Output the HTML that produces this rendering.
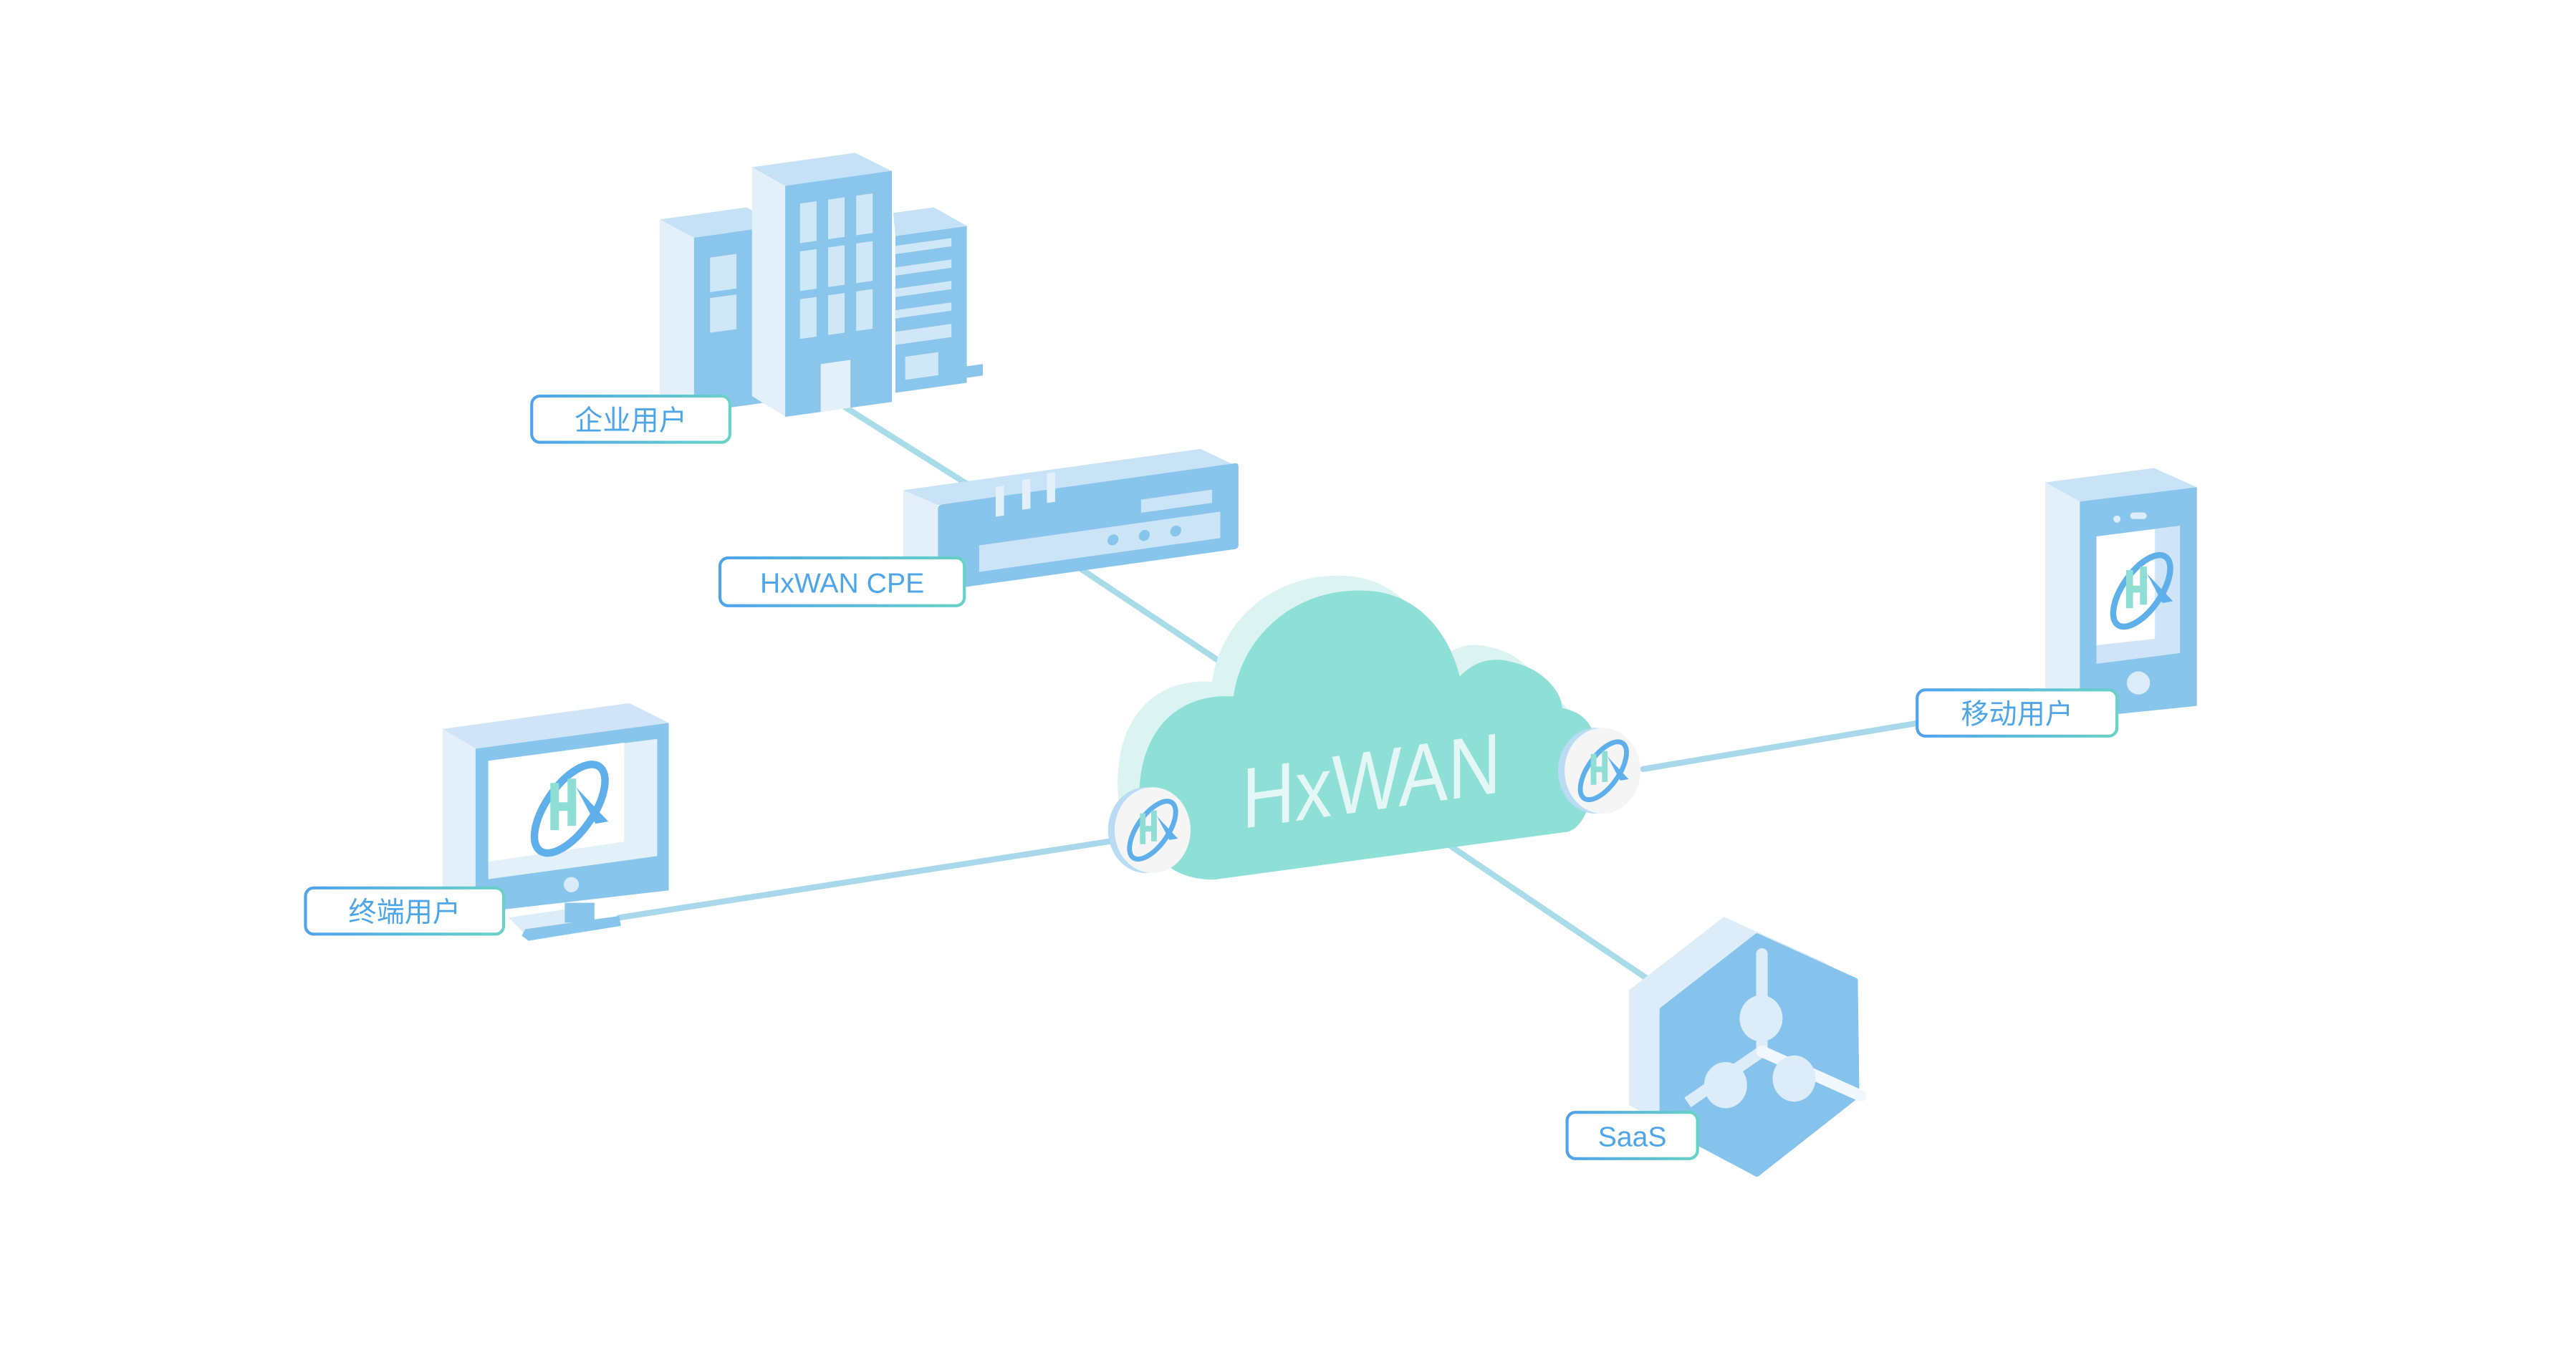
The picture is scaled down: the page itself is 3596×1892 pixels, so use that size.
<!DOCTYPE html>
<html><head><meta charset="utf-8"><style>
html,body{margin:0;padding:0;background:#fff;}
svg{display:block;}
text{font-family:"Liberation Sans","Noto Sans CJK SC",sans-serif;}
</style></head><body>
<svg width="3596" height="1892" viewBox="0 0 1560 821" preserveAspectRatio="none" xmlns="http://www.w3.org/2000/svg">
<defs>
<linearGradient id="lg" x1="0" y1="0" x2="1" y2="0"><stop offset="0" stop-color="#4ea2ee"/><stop offset="1" stop-color="#68d2c6"/></linearGradient>
<linearGradient id="ln" x1="0" y1="0" x2="1" y2="0"><stop offset="0" stop-color="#a6d3f2"/><stop offset="1" stop-color="#a9dfe6"/></linearGradient>
<g id="hx">
<ellipse cx="0" cy="0" rx="11" ry="24" transform="rotate(35)" fill="none" stroke="#5fb0ea" stroke-width="3.5"/>
<rect x="-9" y="-12" width="4" height="22" fill="#8fded6"/>
<rect x="-1" y="-14" width="4" height="22" fill="#8fded6"/>
<rect x="-9" y="-3" width="12" height="4" fill="#8fded6"/>
<polygon points="3,-10 18,6 12,7" fill="#5fb0ea"/>
</g>
</defs>

<!-- connectors -->
<g stroke="url(#ln)" stroke-width="3.6" stroke-linecap="round" fill="none">
<line x1="498" y1="238" x2="590" y2="296" stroke="#a9dce9"/>
<line x1="655" y1="345" x2="760" y2="415" stroke="#a9dce9"/>
<line x1="375" y1="556" x2="690" y2="507" stroke="#a9d8ec"/>
<line x1="995" y1="466" x2="1162" y2="438" stroke="#a9d8ec"/>
<line x1="879" y1="513" x2="1005" y2="598" stroke="#a9dce9"/>
</g>

<!-- Building -->
<g>
<polygon points="399.4,133 452,125.6 473.3,136.8 420.3,144" fill="#c4e1f5"/>
<polygon points="399.4,133 420.3,144 420.3,250.5 399.4,240" fill="#e3f0fa"/>
<g transform="translate(420.3,144) skewY(-8)">
<rect x="0" y="0" width="53" height="106" fill="#8ac6ec"/>
<rect x="9.7" y="13.4" width="16" height="21" fill="#cfe7f7"/>
<rect x="9.7" y="38" width="16" height="21" fill="#cfe7f7"/>
<rect x="39" y="8.6" width="14" height="12" fill="#cfe7f7"/>
<rect x="39" y="32.6" width="14" height="12" fill="#cfe7f7"/>
<rect x="39" y="56.6" width="14" height="12" fill="#cfe7f7"/>
<rect x="39" y="80.5" width="14" height="12" fill="#cfe7f7"/>
</g>
<polygon points="541,129 565.5,125.6 585.5,136.8 542.2,143" fill="#c4e1f5"/>
<g transform="translate(542.2,143) skewY(-8)">
<rect x="0" y="0" width="43.3" height="95" fill="#8ac6ec"/>
<rect x="0" y="6" width="34" height="5" fill="#cfe7f7"/>
<rect x="0" y="19" width="34" height="5" fill="#cfe7f7"/>
<rect x="0" y="32" width="34" height="5" fill="#cfe7f7"/>
<rect x="0" y="45" width="34" height="5" fill="#cfe7f7"/>
<rect x="0" y="58" width="34" height="8" fill="#cfe7f7"/>
<rect x="6" y="74" width="20" height="14" fill="#cfe7f7"/>
<rect x="43" y="85" width="10" height="7" fill="#8ac6ec"/>
</g>
<polygon points="455.4,101.3 517.8,92.6 540.1,103.7 475.5,112.6" fill="#c4e1f5"/>
<polygon points="455.4,101.3 475.5,112.6 475.5,252.4 455.4,240" fill="#e3f0fa"/>
<g transform="translate(475.5,112.6) skewY(-8)">
<rect x="0" y="0" width="64.6" height="140" fill="#8ac6ec"/>
<rect x="9" y="12" width="10" height="24" fill="#cfe7f7"/>
<rect x="26" y="12" width="10" height="24" fill="#cfe7f7"/>
<rect x="43" y="12" width="10" height="24" fill="#cfe7f7"/>
<rect x="9" y="41" width="10" height="24" fill="#cfe7f7"/>
<rect x="26" y="41" width="10" height="24" fill="#cfe7f7"/>
<rect x="43" y="41" width="10" height="24" fill="#cfe7f7"/>
<rect x="9" y="70" width="10" height="24" fill="#cfe7f7"/>
<rect x="26" y="70" width="10" height="24" fill="#cfe7f7"/>
<rect x="43" y="70" width="10" height="24" fill="#cfe7f7"/>
<rect x="21.5" y="111" width="18" height="29" fill="#e3f0fa"/>
</g>
</g>

<!-- CPE -->
<g>
<polygon points="547,297 727,272 750,283 568,306" fill="#c8e3f6"/>
<polygon points="547,297 568,306 568,358 547,347" fill="#e3f0fa"/>
<g transform="translate(568,306) skewY(-8)">
<rect x="0" y="0" width="182" height="52" rx="2" fill="#88c5ec"/>
<rect x="25" y="28" width="146" height="16" fill="#cbe5f7"/>
<rect x="123" y="14" width="43" height="8" fill="#cbe5f7"/>
<circle cx="106" cy="36" r="3.3" fill="#88c5ec"/>
<circle cx="125" cy="36" r="3.3" fill="#88c5ec"/>
<circle cx="144" cy="36" r="3.3" fill="#88c5ec"/>
<rect x="35" y="-6" width="5" height="18" fill="#e3f0fa"/>
<rect x="51" y="-8" width="5" height="18" fill="#e3f0fa"/>
<rect x="66" y="-10" width="5" height="18" fill="#e3f0fa"/>
</g>
</g>

<!-- Monitor -->
<g>
<polygon points="268,441.7 381,426 405,438 288,453.6" fill="#cfe5f7"/>
<polygon points="268,441.7 288,453.6 288,553 268,542" fill="#e3f0fa"/>
<polygon points="288,453.6 405,438 405,539.5 288,553" fill="#88c5ec"/>
<polygon points="295.7,461 398,447.7 398,518.7 295.7,532.7" fill="#e2f0fa"/>
<polygon points="295.7,461 378,450 378,510 295.7,522" fill="#ffffff"/>
<circle cx="346" cy="536" r="4.6" fill="#d8ebf9"/>
<polygon points="308,556 342,551 360,553 342,564 318,566" fill="#dcedf9"/>
<rect x="342" y="547" width="18" height="12" fill="#88c5ec"/>
<polygon points="318,563 375,555 376,561 320,570 316,567" fill="#88c5ec"/>
<use href="#hx" transform="translate(345,490) scale(1.3)"/>
</g>

<!-- Phone -->
<g>
<polygon points="1238.6,292.3 1304.4,283.6 1330.4,295.2 1259.5,303.9" fill="#c8e3f6"/>
<polygon points="1238.6,292.3 1259.5,303.9 1259.5,435 1238.6,425" fill="#e3f0fa"/>
<polygon points="1259.5,303.9 1330.4,295.2 1330.4,427.7 1259.5,435" fill="#88c5ec"/>
<polygon points="1269.6,325 1320.2,318.5 1320.2,395.7 1269.6,402.2" fill="#cfe5f7"/>
<polygon points="1269.6,325 1305,320.5 1305,387 1269.6,391" fill="#ffffff"/>
<circle cx="1295" cy="413.8" r="7" fill="#dcedf9"/>
<circle cx="1282" cy="314.5" r="2.2" fill="#dcedf9"/>
<rect x="1290" y="310.5" width="10" height="4" rx="2" fill="#dcedf9"/>
<use href="#hx" transform="translate(1297,358) scale(1.05)"/>
</g>

<!-- SaaS -->
<g>
<polygon points="986.5,600 1044,555.5 1103.6,582.5 1123.6,594 1064,567 1006.5,611.7 1006.5,681 986.5,669.5" fill="#dcedf9"/>
<polygon points="1006.5,611.7 1064,567 1123.6,594 1124.5,664 1064,711.5 1006.5,681" fill="#86c3ec" stroke="#86c3ec" stroke-width="3" stroke-linejoin="round"/>
<line x1="1067" y1="578" x2="1067" y2="637" stroke="#dcedf9" stroke-width="7" stroke-linecap="round"/>
<line x1="1067" y1="637" x2="1022" y2="668" stroke="#dcedf9" stroke-width="7"/>
<line x1="1067" y1="637" x2="1127" y2="664" stroke="#f0f8fd" stroke-width="7" stroke-linecap="round"/>
<ellipse cx="1066.5" cy="617" rx="13" ry="14" fill="#dcedf9"/>
<ellipse cx="1045" cy="657.5" rx="13" ry="14" fill="#dcedf9"/>
<ellipse cx="1086.5" cy="653.5" rx="13" ry="14" fill="#dcedf9"/>
</g>

<!-- Cloud -->
<g>
<path d="M735,533 C700,533 688,505 690,478 C692,440 715,420 747,422 C752,385 785,355 829,358 C860,360 878,385 884,410 C893,400 905,398 915,401 C935,405 946,420 946,429 C960,432 970,440 966,470 C963,495 955,503 949,504 Z" fill="#dcf4f1" transform="translate(-13,-9)"/>
<path d="M735,533 C700,533 688,505 690,478 C692,440 715,420 747,422 C752,385 785,355 829,358 C860,360 878,385 884,410 C893,400 905,398 915,401 C935,405 946,420 946,429 C960,432 970,440 966,470 C963,495 955,503 949,504 Z" fill="#8edfd6"/>
<text x="0" y="0" font-size="52" fill="#e4f7f5" textLength="157" lengthAdjust="spacingAndGlyphs" transform="translate(752,502) skewY(-8)">HxWAN</text>
<ellipse cx="694" cy="503" rx="23" ry="26" fill="#b9dcf4"/>
<ellipse cx="698" cy="503" rx="23" ry="26" fill="#f5f5f5"/>
<use href="#hx" transform="translate(698,503) scale(0.85)"/>
<ellipse cx="966.5" cy="467" rx="23" ry="26" fill="#b9dcf4"/>
<ellipse cx="970.5" cy="467" rx="23" ry="26" fill="#f5f5f5"/>
<use href="#hx" transform="translate(971,467) scale(0.85)"/>
</g>

<!-- Labels -->
<g font-size="17" fill="#4ea6e8" text-anchor="middle">
<rect x="322" y="240" width="120" height="28" rx="5" fill="#fff" stroke="url(#lg)" stroke-width="1.8"/>
<text x="382" y="260.5">企业用户</text>
<rect x="436" y="338" width="148" height="29" rx="5" fill="#fff" stroke="url(#lg)" stroke-width="1.8"/>
<text x="510" y="359">HxWAN CPE</text>
<rect x="185" y="538" width="120" height="28" rx="5" fill="#fff" stroke="url(#lg)" stroke-width="1.8"/>
<text x="245" y="558.5">终端用户</text>
<rect x="1161" y="418" width="121" height="28" rx="5" fill="#fff" stroke="url(#lg)" stroke-width="1.8"/>
<text x="1221.5" y="438.5">移动用户</text>
<rect x="949" y="674" width="79" height="28" rx="5" fill="#fff" stroke="url(#lg)" stroke-width="1.8"/>
<text x="988.5" y="694.5">SaaS</text>
</g>
</svg>
</body></html>
